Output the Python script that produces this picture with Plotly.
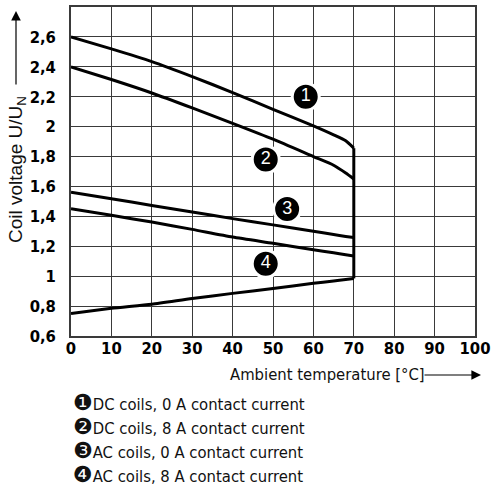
import plotly.graph_objects as go

# ---- data ----
temp = [0, 10, 20, 30, 40, 50, 60, 65, 68, 70]
dc_0a = [2.60, 2.52, 2.435, 2.335, 2.228, 2.116, 2.005, 1.945, 1.905, 1.856]
dc_8a = [2.40, 2.315, 2.225, 2.125, 2.022, 1.916, 1.80, 1.742, 1.69, 1.65]
ac_0a = [1.562, 1.518, 1.473, 1.429, 1.385, 1.343, 1.30, 1.279, 1.266, 1.258]
ac_8a = [1.451, 1.407, 1.362, 1.313, 1.262, 1.22, 1.177, 1.156, 1.143, 1.135]
pickup_min = [0.751, 0.785, 0.813, 0.851, 0.885, 0.918, 0.952, 0.968, 0.978, 0.985]

label_num = ["1", "2", "3", "4"]
label_x = [58.1, 48.2, 53.5, 48.2]
label_y = [2.20, 1.78, 1.449, 1.083]

legend_text = ["DC coils, 0 A contact current", "DC coils, 8 A contact current",
               "AC coils, 0 A contact current", "AC coils, 8 A contact current"]
legend_sym = ["\u2776", "\u2777", "\u2778", "\u2779"]

y_ticks = [0.6, 0.8, 1.0, 1.2, 1.4, 1.6, 1.8, 2.0, 2.2, 2.4, 2.6]
y_ticktext = ["0,6", "0,8", "1", "1,2", "1,4", "1,6", "1,8", "2", "2,2", "2,4", "2,6"]
x_ticks = [0, 10, 20, 30, 40, 50, 60, 70, 80, 90, 100]

NARROW = "DejaVu Sans Condensed, Liberation Sans Narrow, Liberation Sans, sans-serif"
REG = "Liberation Sans, Arial, sans-serif"

fig = go.Figure()
line = dict(color="black", width=3, shape="spline", smoothing=0.6)
for ys in [dc_0a, dc_8a, ac_0a, ac_8a, pickup_min]:
    fig.add_trace(go.Scatter(x=temp, y=ys, mode="lines", line=line, hoverinfo="skip"))
# vertical limit at the end temperature
fig.add_trace(go.Scatter(x=[temp[-1], temp[-1]], y=[pickup_min[-1], dc_0a[-1]],
                         mode="lines", line=dict(color="black", width=3), hoverinfo="skip"))
# circled curve labels
fig.add_trace(go.Scatter(x=label_x, y=label_y, mode="markers+text", text=label_num,
                         textposition="middle center",
                         textfont=dict(color="white", size=18, family=REG),
                         marker=dict(symbol="circle", size=27, color="black",
                                     line=dict(color="white", width=3)),
                         hoverinfo="skip"))

grid_c = "#3a3a3a"
fig.update_layout(
    width=500, height=500,
    margin=dict(l=71, r=25, t=7, b=164),
    paper_bgcolor="white", plot_bgcolor="white",
    showlegend=False,
    xaxis=dict(range=[0, 100], tickvals=x_ticks, showgrid=True, gridcolor=grid_c, gridwidth=1,
               showline=True, linecolor=grid_c, linewidth=1.5, mirror=True, zeroline=False,
               tickfont=dict(family=NARROW, size=16.5, color="black", weight="bold"),
               ticklabelstandoff=-4, automargin=False, fixedrange=True),
    yaxis=dict(range=[0.6, 2.8], tickvals=y_ticks, ticktext=y_ticktext, showgrid=True,
               gridcolor=grid_c, gridwidth=1, showline=True, linecolor=grid_c, linewidth=1.5,
               mirror=True, zeroline=False,
               tickfont=dict(family=NARROW, size=16.5, color="black", weight="bold"),
               ticklabelstandoff=10, automargin=False, fixedrange=True),
)

def px_x(p):
    return (p - 71) / 404.0

def px_y(p):
    return (336 - p) / 329.0

annotations = []
# y-axis title and arrow
annotations.append(dict(xref="paper", yref="paper", x=px_x(17), y=px_y(170),
                        text="Coil voltage U/U<sub>N</sub>", textangle=-90, showarrow=False,
                        font=dict(family=REG, size=19, color="#111"),
                        xanchor="center", yanchor="middle"))
annotations.append(dict(xref="paper", yref="paper", x=px_x(16), y=px_y(11), text="",
                        showarrow=True, ax=0, ay=75, arrowhead=2, arrowsize=1.6,
                        arrowwidth=1.2, arrowcolor="black", standoff=0))
# x-axis title and arrow
annotations.append(dict(xref="paper", yref="paper", x=px_x(327), y=px_y(374),
                        text="Ambient temperature [°C]", showarrow=False,
                        font=dict(family=NARROW, size=16.5, color="#111"),
                        xanchor="center", yanchor="middle"))
annotations.append(dict(xref="paper", yref="paper", x=px_x(481), y=px_y(375), text="",
                        showarrow=True, ax=-58, ay=0, arrowhead=2, arrowsize=1.6,
                        arrowwidth=1.2, arrowcolor="black", standoff=0))
# bottom legend
legend_y = [402, 426, 450, 474]
for sym, txt, yy in zip(legend_sym, legend_text, legend_y):
    annotations.append(dict(xref="paper", yref="paper", x=px_x(71), y=px_y(yy),
                            text=f"<span style='font-family:DejaVu Sans;font-size:22px'>{sym}</span>{txt}",
                            showarrow=False, xanchor="left", yanchor="middle",
                            font=dict(family=NARROW, size=16.5, color="#111")))
fig.update_layout(annotations=annotations)

fig.write_html("out.html", config={"displayModeBar": False},
               post_script="document.body.style.margin='0px';")
